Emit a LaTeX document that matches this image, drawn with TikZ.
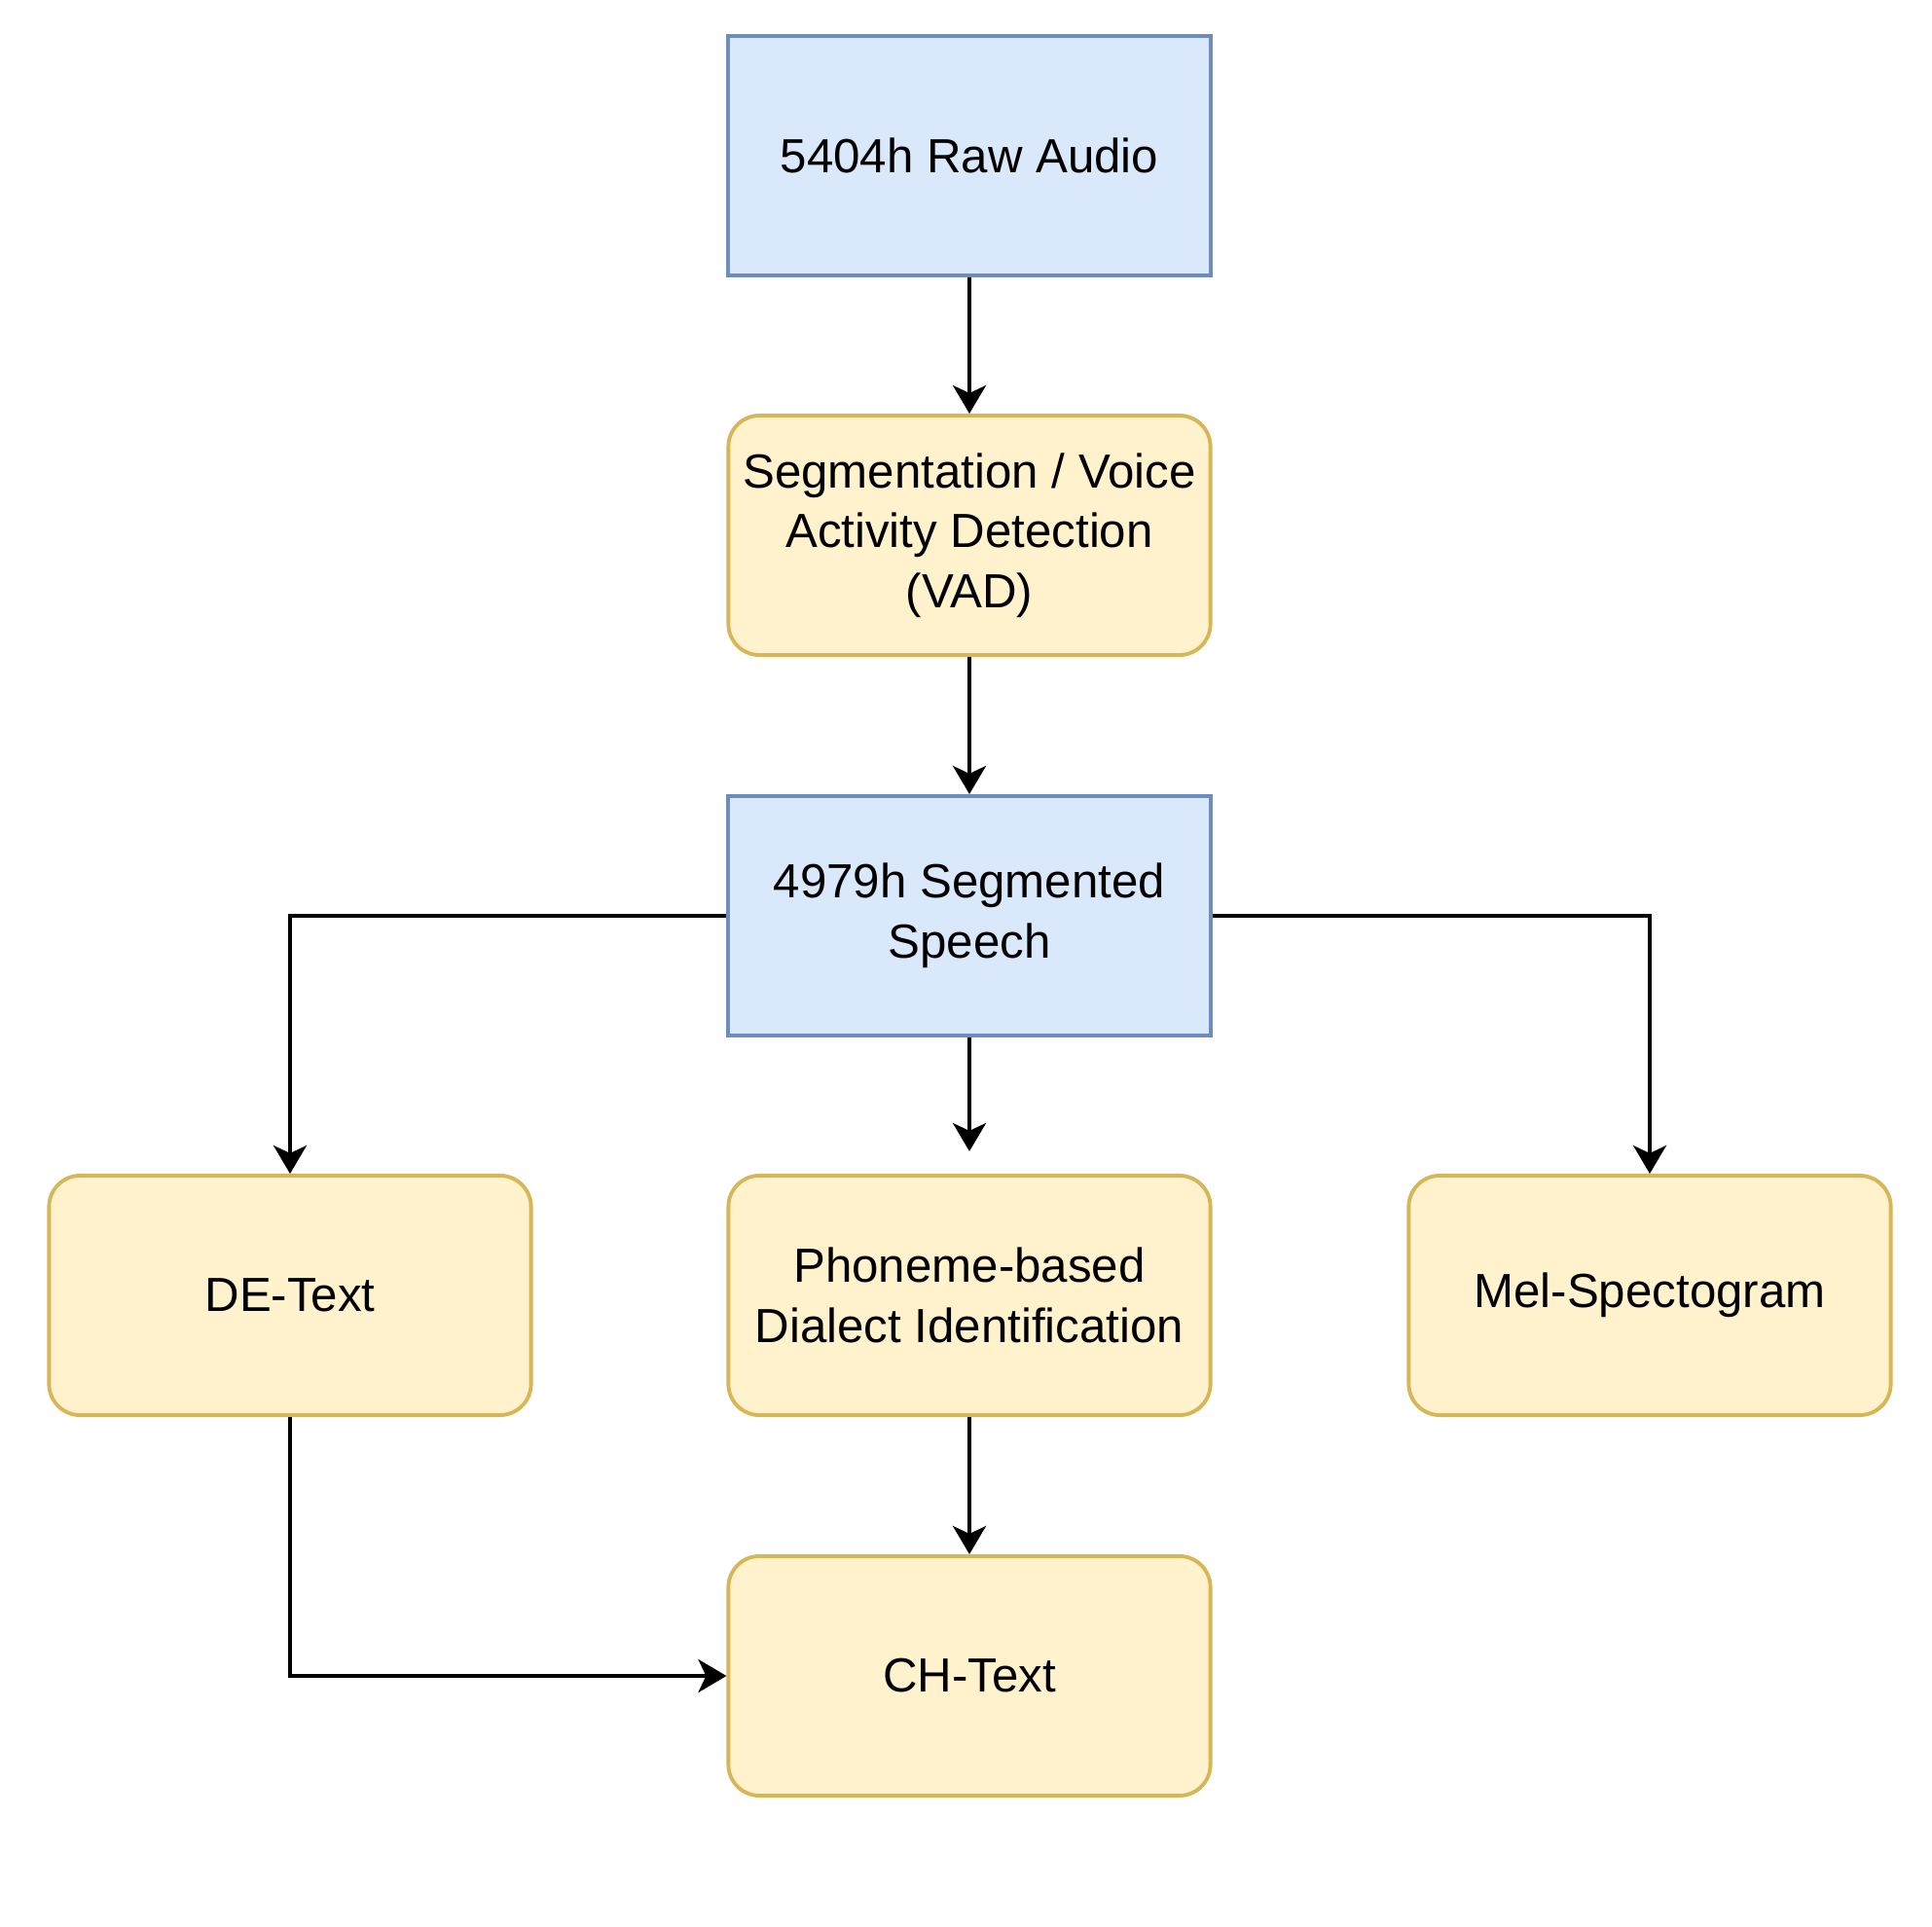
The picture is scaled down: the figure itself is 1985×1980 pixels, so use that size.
\documentclass[tikz,border=0pt]{standalone}
\usepackage{fontspec}
\setmainfont{Liberation Sans}
\usetikzlibrary{arrows.meta}
\definecolor{datafill}{HTML}{DAE8FC}
\definecolor{dataline}{HTML}{6C8EBF}
\definecolor{procfill}{HTML}{FFF2CC}
\definecolor{procline}{HTML}{D6B656}
\tikzset{
	box/.style={minimum width=4.95cm,minimum height=2.46cm,inner sep=0pt,align=center,line width=1.1pt,font=\fontsize{14}{17.5}\selectfont},
	data/.style={box,draw=dataline,fill=datafill},
	proc/.style={box,draw=procline,fill=procfill,rounded corners=0.32cm},
	flow/.style={line width=1.1pt,-{Stealth[length=0.29cm,width=0.34cm,inset=0.08cm]}},
}
\begin{document}
\begin{tikzpicture}[x=0.01cm,y=-0.01cm]
				\useasboundingbox (0,0) rectangle (1985,1980);
				\node[data] (raw) at (996,160) {5404h Raw Audio};
				\node[proc] (seg) at (996,550) {Segmentation / Voice\\Activity Detection\\(VAD)};
				\node[data] (speech) at (996,941) {4979h Segmented\\Speech};
				\node[proc] (de) at (298,1331) {DE-Text};
				\node[proc] (phon) at (996,1331) {Phoneme-based\\Dialect Identification};
				\node[proc] (mel) at (1695,1331) {Mel-Spectogram};
				\node[proc] (ch) at (996,1722) {CH-Text};
				\draw[flow] (raw) -- (seg);
				\draw[flow] (seg) -- (speech);
				\draw[flow] (speech) -| (de);
				\draw[flow,shorten >=0.23cm] (speech) -- (phon);
				\draw[flow] (speech) -| (mel);
				\draw[flow] (phon) -- (ch);
				\draw[flow] (de) |- (ch);
			\end{tikzpicture}
\end{document}
